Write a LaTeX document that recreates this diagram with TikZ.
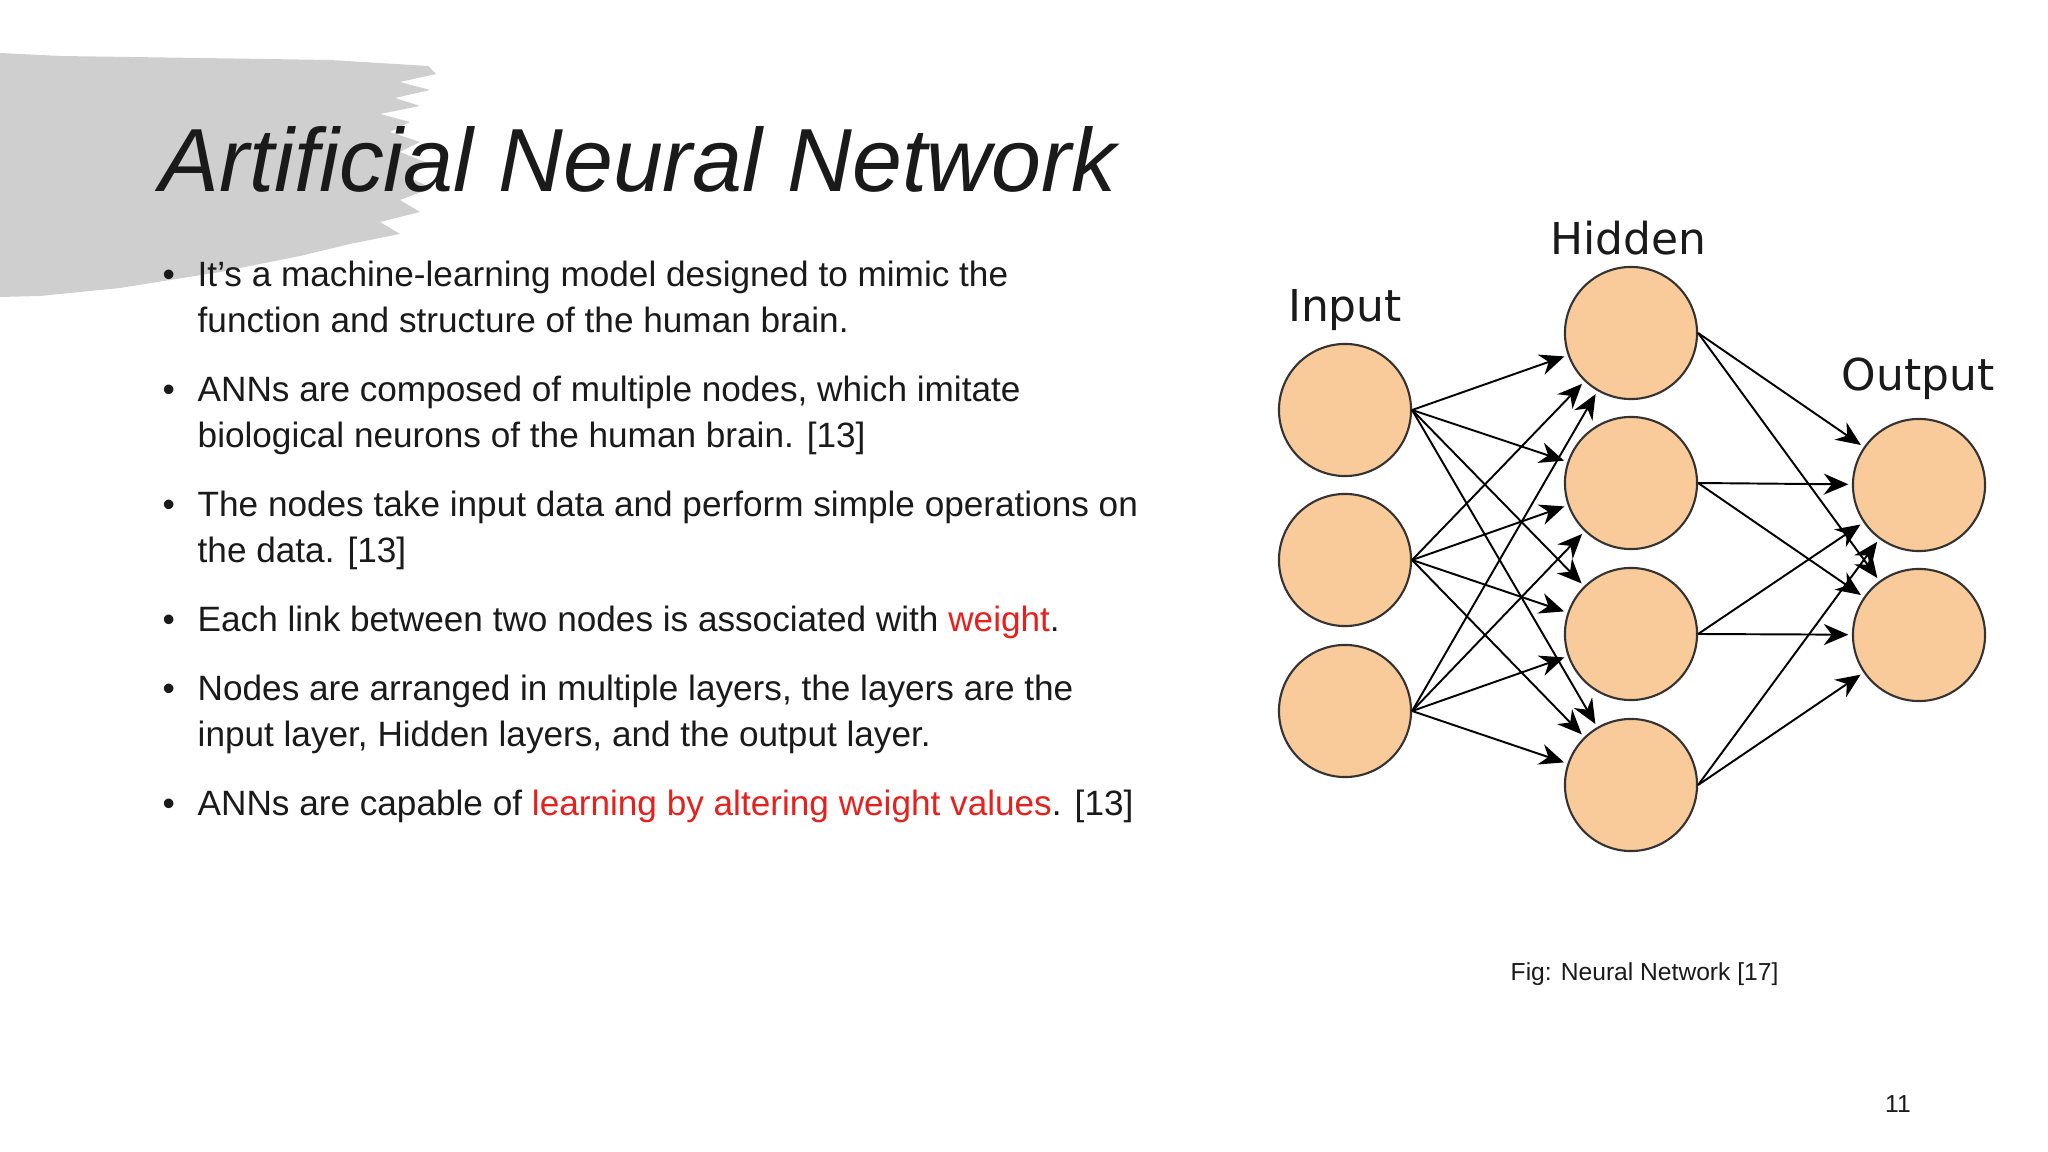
\documentclass[tikz,border=0pt]{standalone}
\usepackage{fontspec}
\setmainfont{Liberation Sans}
\newfontfamily\djv{DejaVu Sans}
\usetikzlibrary{arrows.meta}
\definecolor{neu}{HTML}{FACB9A}
\definecolor{brush}{HTML}{CFCFCF}
\definecolor{hl}{HTML}{E8201C}
\definecolor{txt}{HTML}{1A1A1A}
\begin{document}
\begin{tikzpicture}[x=0.01cm,y=-0.01cm,
  neuron/.style={circle,fill=neu,draw=black!80,line width=0.6pt,minimum size=1.32cm,inner sep=0},
  conn/.style={line width=0.55pt,-{Stealth[length=7pt,width=6pt]},shorten >=1pt},
  lbl/.style={font=\djv\fontsize{12.5}{14}\selectfont,text=txt},
  body/.style={anchor=base west,inner sep=0,font=\fontsize{10}{12}\selectfont,text=txt},
  bul/.style={anchor=base west,inner sep=0,font=\fontsize{10}{12}\selectfont,text=txt}]
\useasboundingbox (0,0) rectangle (2048,1152);
\fill[white] (0,0) rectangle (2048,1152);
% brush stroke
\fill[brush] (0,53) -- (60,56) -- (200,58) -- (330,60) -- (428,66) -- (436,74) -- (400,82) -- (430,90) -- (395,98) -- (420,106)
 -- (380,114) -- (410,122) -- (390,132) -- (420,142) -- (400,152) -- (430,164) -- (405,176) -- (432,188) -- (400,200)
 -- (420,212) -- (380,222) -- (400,234) -- (350,244) -- (300,256) -- (220,272) -- (120,288) -- (40,296) -- (0,297) -- cycle;
% title
\node[anchor=base west,inner sep=0,font=\itshape\fontsize{25.5}{30}\selectfont,text=txt] (title) at (159,192) {Artificial Neural Network};
% bullets
\foreach \y in {287,402,517,631,700,815} \node[bul] at (162,\y) {•};
\node[body] (b1a) at (197,287) {It’s a machine-learning model designed to mimic the};
\node[body] (b1b) at (197,333) {function and structure of the human brain.};
\node[body] (b2a) at (197,402) {ANNs are composed of multiple nodes, which imitate};
\node[body] (b2b) at (197,448) {biological neurons of the human brain. [13]};
\node[body] (b3a) at (197,517) {The nodes take input data and perform simple operations on};
\node[body] (b3b) at (197,563) {the data. [13]};
\node[body] (b4) at (197,631) {Each link between two nodes is associated with \textcolor{hl}{weight}.};
\node[body] (b5a) at (197,700) {Nodes are arranged in multiple layers, the layers are the};
\node[body] (b5b) at (197,746) {input layer, Hidden layers, and the output layer.};
\node[body] (b6) at (197,815) {ANNs are capable of \textcolor{hl}{learning by altering weight values}. [13]};
% network
\node[neuron] (i1) at (1345,410) {};
\node[neuron] (i2) at (1345,560) {};
\node[neuron] (i3) at (1345,711) {};
\node[neuron] (h1) at (1631,333) {};
\node[neuron] (h2) at (1631,483) {};
\node[neuron] (h3) at (1631,634) {};
\node[neuron] (h4) at (1631,785) {};
\node[neuron] (o1) at (1919,485) {};
\node[neuron] (o2) at (1919,635) {};
\node[lbl] (li) at (1345,310) {Input};
\node[lbl] (lh) at (1628,238) {Hidden};
\node[lbl] (lo) at (1918,379) {Output};
\foreach \s in {i1,i2,i3} \foreach \t in {h1,h2,h3,h4} \draw[conn] (\s.east) -- (\t);
\foreach \s in {h1,h2,h3,h4} \foreach \t in {o1,o2} \draw[conn] (\s.east) -- (\t);
% caption
\node[anchor=base west,inner sep=0,font=\fontsize{7}{8}\selectfont,text=txt] (cap) at (1510,980) {Fig: Neural Network [17]};
\node[anchor=base,inner sep=0,font=\fontsize{7}{8}\selectfont,text=txt] (pg) at (1898,1112) {11};
\end{tikzpicture}
\end{document}
